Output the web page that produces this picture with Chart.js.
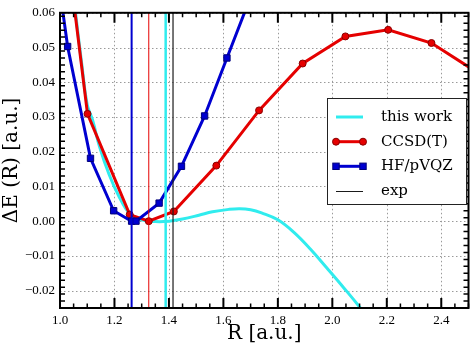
<!DOCTYPE html>
<html><head><meta charset="utf-8">
<script src="https://cdn.jsdelivr.net/npm/chart.js@4.4.1/dist/chart.umd.min.js"></script>
<style>html,body{margin:0;padding:0;background:#fff;}</style>
</head><body>
<canvas id="c" width="474" height="346"></canvas>
<script>
// ---- data ----
const xTicks = [1.0, 1.2, 1.4, 1.6, 1.8, 2.0, 2.2, 2.4];
const xTickLabels = ["1.0", "1.2", "1.4", "1.6", "1.8", "2.0", "2.2", "2.4"];
const yTicks = [-0.02, -0.01, 0.00, 0.01, 0.02, 0.03, 0.04, 0.05, 0.06];
const yTickLabels = ["\u22120.02", "\u22120.01", "0.00", "0.01", "0.02", "0.03", "0.04", "0.05", "0.06"];
const seriesNames = ["this work", "CCSD(T)", "HF/pVQZ", "exp"];

const thisWorkR = [1.04, 1.06, 1.08, 1.10, 1.12, 1.145, 1.18, 1.218, 1.255, 1.30, 1.35, 1.40, 1.45, 1.51, 1.56, 1.62, 1.66, 1.70, 1.74, 1.80, 1.86, 1.92, 1.98, 2.04, 2.10, 2.15];
const thisWorkE = [0.072, 0.058, 0.0452, 0.0335, 0.029, 0.0215, 0.0135, 0.0069, 0.0023, 0.0004, -0.0001, 0.0000, 0.0006, 0.0017, 0.0027, 0.0034, 0.0036, 0.0033, 0.0024, 0.0004, -0.0033, -0.0081, -0.0135, -0.0190, -0.0247, -0.0300];

const ccsdR = [0.945, 1.101, 1.256, 1.326, 1.418, 1.574, 1.731, 1.891, 2.048, 2.205, 2.364, 2.521];
const ccsdE = [0.130, 0.0309, 0.0019, 0.0000, 0.0028, 0.0160, 0.0319, 0.0454, 0.0532, 0.0551, 0.0513, 0.0434];

const hfR = [0.944, 1.028, 1.112, 1.197, 1.263, 1.279, 1.364, 1.446, 1.531, 1.613, 1.697];
const hfE = [0.098, 0.0503, 0.0181, 0.0030, 0.0000, 0.0000, 0.0052, 0.0158, 0.0303, 0.0470, 0.0640];

const vlineR = [1.263, 1.326, 1.388, 1.415];   // HF, CCSD(T), this work, exp minima

// ---- styles ----
const CYAN = '#30ecee', RED = '#e50000', BLUE = '#0000d0', EXP = '#1a1a1a';
const vlineColors = [BLUE, RED, CYAN, EXP];
const vlineWidths = [2, 1, 2.5, 1.2];

const pts = (xs, ys) => xs.map((x, i) => ({x: x, y: ys[i]}));

const datasets = [];
vlineR.forEach((r, i) => {
  datasets.push({data: [{x: r, y: -1}, {x: r, y: 1}], borderColor: vlineColors[i], borderWidth: vlineWidths[i], pointRadius: 0, showLine: true});
});
datasets.push({label: seriesNames[2], data: pts(hfR, hfE), borderColor: BLUE, borderWidth: 3,
  pointStyle: 'rect', pointRadius: 4.5, pointBackgroundColor: BLUE, pointBorderColor: '#00007a', pointBorderWidth: 1, showLine: true});
datasets.push({label: seriesNames[1], data: pts(ccsdR, ccsdE), borderColor: RED, borderWidth: 3,
  pointStyle: 'circle', pointRadius: 3.5, pointBackgroundColor: RED, pointBorderColor: '#8a0000', pointBorderWidth: 1, showLine: true});
datasets.push({label: seriesNames[0], data: pts(thisWorkR, thisWorkE), borderColor: CYAN, borderWidth: 3,
  pointRadius: 0, showLine: true, tension: 0.4});

const X_MINOR = 0.05, Y_MINOR = 0.002;

const gridPlugin = {
  id: 'grid',
  beforeDatasetsDraw(chart) {
    const {ctx, chartArea: a, scales: {x, y}} = chart;
    ctx.save();
    ctx.strokeStyle = '#9a9a9a'; ctx.lineWidth = 1; ctx.setLineDash([1.5, 2.5]);
    xTicks.forEach(v => { const px = Math.round(x.getPixelForValue(v)) + 0.5;
      ctx.beginPath(); ctx.moveTo(px, a.top); ctx.lineTo(px, a.bottom); ctx.stroke(); });
    yTicks.forEach(v => { const py = Math.round(y.getPixelForValue(v)) + 0.5;
      ctx.beginPath(); ctx.moveTo(a.left, py); ctx.lineTo(a.right, py); ctx.stroke(); });
    ctx.restore();
  },
  afterDatasetsDraw(chart) {
    const {ctx, chartArea: a, scales: {x, y}} = chart;
    ctx.save();
    ctx.strokeStyle = '#000';
    const isMajor = (v, arr) => arr.some(t => Math.abs(t - v) < 1e-6);
    for (let i = 0; ; i++) {
      const v = x.min + i * X_MINOR; if (v > x.max + 1e-9) break;
      const px = x.getPixelForValue(v); const maj = isMajor(v, xTicks);
      const L = maj ? 10 : 4.5; ctx.lineWidth = maj ? 2 : 1.5;
      ctx.beginPath(); ctx.moveTo(px, a.bottom); ctx.lineTo(px, a.bottom - L);
      ctx.moveTo(px, a.top); ctx.lineTo(px, a.top + L); ctx.stroke();
    }
    for (let i = 0; ; i++) {
      const v = y.min + i * Y_MINOR; if (v > y.max + 1e-9) break;
      const py = y.getPixelForValue(v); const maj = isMajor(v, yTicks);
      const L = maj ? 11 : 5; ctx.lineWidth = maj ? 2 : 1.5;
      ctx.beginPath(); ctx.moveTo(a.left, py); ctx.lineTo(a.left + L, py);
      ctx.moveTo(a.right, py); ctx.lineTo(a.right - L, py); ctx.stroke();
    }
    ctx.lineWidth = 2;
    ctx.strokeRect(a.left, a.top, a.right - a.left, a.bottom - a.top);
    ctx.restore();
  },
  afterDraw(chart) {
    const {ctx} = chart;
    ctx.save();
    const bx = 327.5, by = 98.5, bw = 139, bh = 106;
    ctx.fillStyle = '#fff'; ctx.fillRect(bx, by, bw, bh);
    ctx.strokeStyle = '#222'; ctx.lineWidth = 1; ctx.strokeRect(bx, by, bw, bh);
    const rows = [117, 141.7, 166.3, 191];
    const x0 = 336, x1 = 363, tx = 381;
    ctx.font = '15px "DejaVu Serif"'; ctx.textBaseline = 'middle'; ctx.textAlign = 'left';
    ctx.strokeStyle = CYAN; ctx.lineWidth = 3;
    ctx.beginPath(); ctx.moveTo(x0, rows[0]); ctx.lineTo(x1, rows[0]); ctx.stroke();
    ctx.strokeStyle = RED; ctx.lineWidth = 3;
    ctx.beginPath(); ctx.moveTo(x0, rows[1]); ctx.lineTo(x1, rows[1]); ctx.stroke();
    [x0, x1].forEach(px => { ctx.beginPath(); ctx.arc(px, rows[1], 3.5, 0, Math.PI * 2);
      ctx.fillStyle = RED; ctx.fill(); ctx.lineWidth = 1; ctx.strokeStyle = '#8a0000'; ctx.stroke(); });
    ctx.strokeStyle = BLUE; ctx.lineWidth = 3;
    ctx.beginPath(); ctx.moveTo(x0, rows[2]); ctx.lineTo(x1, rows[2]); ctx.stroke();
    [x0, x1].forEach(px => { ctx.fillStyle = BLUE; ctx.fillRect(px - 3.2, rows[2] - 3.2, 6.4, 6.4);
      ctx.lineWidth = 1; ctx.strokeStyle = '#00007a'; ctx.strokeRect(px - 3.2, rows[2] - 3.2, 6.4, 6.4); });
    ctx.strokeStyle = EXP; ctx.lineWidth = 1;
    ctx.beginPath(); ctx.moveTo(x0, rows[3] + 0.5); ctx.lineTo(x1, rows[3] + 0.5); ctx.stroke();
    ctx.fillStyle = '#000';
    seriesNames.forEach((n, i) => ctx.fillText(n, tx, rows[i]));
    ctx.restore();
  }
};

new Chart(document.getElementById('c'), {
  type: 'scatter',
  data: {datasets: datasets},
  options: {
    responsive: false, animation: false, devicePixelRatio: 1,
    layout: {padding: {top: 3, right: 2, left: 0, bottom: 0}},
    plugins: {legend: {display: false}, tooltip: {enabled: false}},
    elements: {line: {fill: false}},
    scales: {
      x: {
        type: 'linear', min: 1.0, max: 2.5,
        afterBuildTicks(s) { s.ticks = xTicks.map(v => ({value: v})); },
        afterFit(s) { s.height = 38; },
        ticks: {callback: (v, i) => xTickLabels[i], font: {family: 'Liberation Serif', size: 13}, color: '#000', padding: 5, maxRotation: 0, autoSkip: false},
        grid: {display: false, drawTicks: false}, border: {display: false},
        title: {display: true, text: 'R [a.u.]', font: {family: 'DejaVu Serif', size: 20}, color: '#000', padding: 0}
      },
      y: {
        type: 'linear', min: -0.025, max: 0.06,
        afterBuildTicks(s) { s.ticks = yTicks.map(v => ({value: v})); },
        afterFit(s) { s.width = 60; },
        ticks: {callback: (v, i) => yTickLabels[i], font: {family: 'Liberation Serif', size: 13}, color: '#000', padding: 5, autoSkip: false},
        grid: {display: false, drawTicks: false}, border: {display: false},
        title: {display: true, text: '\u0394E (R) [a.u.]', font: {family: 'DejaVu Serif', size: 20}, color: '#000', padding: 0}
      }
    }
  },
  plugins: [gridPlugin]
});
</script>
</body></html>
